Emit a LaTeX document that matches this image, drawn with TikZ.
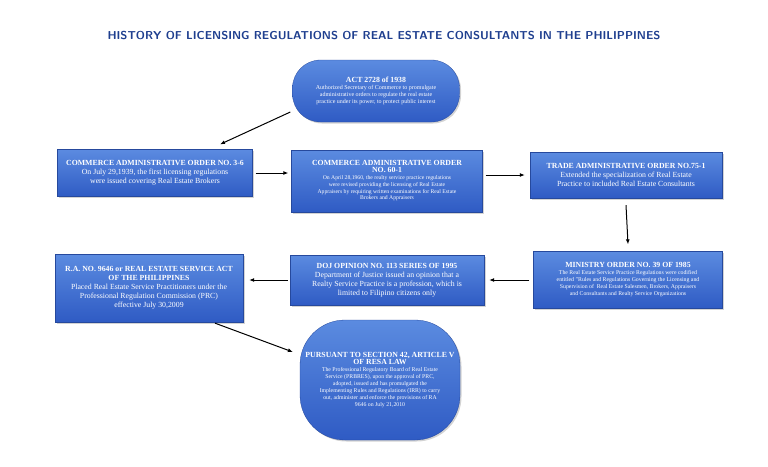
\documentclass[tikz,border=0pt]{standalone}
\usepackage{fontspec}
\setmainfont{Liberation Serif}
\usetikzlibrary{shadows,arrows.meta}
\definecolor{btop}{HTML}{5B8BE0}
\definecolor{bbot}{HTML}{2F5BC4}
\definecolor{ttl}{HTML}{1F3F8F}
\tikzset{
 bx/.style={top color=btop,bottom color=bbot,draw=bbot!80!black,line width=0.3pt,text=white,align=center,inner sep=2pt,drop shadow={opacity=0.35,shadow xshift=1.5pt,shadow yshift=-1.5pt}},
 conn/.style={-{Latex[length=5pt,width=4pt]},line width=1pt,black},
}
\newcommand{\hh}[1]{{\bfseries\fontsize{7.8}{9}\selectfont #1}}
\begin{document}
\begin{tikzpicture}[x=1pt,y=-1pt]
\useasboundingbox (0,0) rectangle (768,466);
\node (title) at (384,36) {\sffamily\bfseries\color{ttl}\fontsize{11.5}{12}\selectfont HISTORY OF LICENSING REGULATIONS OF REAL ESTATE CONSULTANTS IN THE PHILIPPINES};
\node[bx,rounded corners=28pt,minimum width=167pt,minimum height=62pt,font=\fontsize{6}{7}\selectfont] (act) at (376,91) {\hh{ACT 2728 of 1938}\\Authorized Secretary of Commerce to promulgate\\administrative orders to regulate the real estate\\practice under its power, to protect public interest};
\node[bx,minimum width=195pt,minimum height=47pt,font=\fontsize{7.8}{9}\selectfont] (cao) at (155,173) {\hh{COMMERCE ADMINISTRATIVE ORDER NO. 3-6}\\On July 29,1939, the first licensing regulations\\were issued covering Real Estate Brokers};
\node[bx,minimum width=191pt,minimum height=62pt,font=\fontsize{5.7}{6.8}\selectfont] (cao2) at (387,181) {\hh{COMMERCE ADMINISTRATIVE ORDER}\\\hh{NO. 60-1}\\On April 28,1960, the realty service practice regulations\\were revised providing the licensing of Real Estate\\Appraisers by requiring written examinations for Real Estate\\Brokers and Appraisers};
\node[bx,minimum width=192pt,minimum height=46pt,font=\fontsize{7.8}{9}\selectfont] (tao) at (626,175) {\hh{TRADE ADMINISTRATIVE ORDER NO.75-1}\\Extended the specialization of Real Estate\\Practice to included Real Estate Consultants};
\node[bx,minimum width=189pt,minimum height=57pt,font=\fontsize{5.8}{7}\selectfont] (min) at (628,280) {\hh{MINISTRY ORDER NO. 39 OF 1985}\\The Real Estate Service Practice Regulations were codified\\entitled "Rules and Regulations Governing the Licensing and\\Supervision of\ \ Real Estate Salesmen, Brokers, Appraisers\\and Consultants and Realty Service Organizations};
\node[bx,minimum width=194pt,minimum height=50pt,font=\fontsize{7.8}{9}\selectfont] (doj) at (387,280) {\hh{DOJ OPINION NO. 113 SERIES OF 1995}\\Department of Justice issued an opinion that a\\Realty Service Practice is a profession, which is\\limited to Filipino citizens only};
\node[bx,minimum width=188pt,minimum height=68pt,font=\fontsize{7.8}{9}\selectfont] (ra) at (149,288) {\hh{R.A. NO. 9646 or REAL ESTATE SERVICE ACT}\\\hh{OF THE PHILIPPINES}\\Placed Real Estate Service Practitioners under the\\Professional Regulation Commission (PRC)\\effective July 30,2009};
\node[bx,rounded corners=45pt,minimum width=160pt,minimum height=120pt,font=\fontsize{5.8}{7}\selectfont] (pur) at (380,380) {\hh{PURSUANT TO SECTION 42, ARTICLE V}\\\hh{OF RESA LAW}\\The Professional Regulatory Board of Real Estate\\Service (PRBRES), upon the approval of PRC,\\adopted, issued and has promulgated the\\Implementing Rules and Regulations (IRR) to carry\\out, administer and enforce the provisions of RA\\9646 on July 21,2010};
\draw[conn] ([xshift=-2pt,yshift=-21pt]act.west) -- ([xshift=65pt,yshift=5pt]cao.north);
\draw[conn] ([xshift=3pt]cao.east) -- ([xshift=-3pt]cao2.west |- cao.east);
\draw[conn] ([xshift=3pt]cao2.east |- tao.west) -- ([xshift=-5pt]tao.west);
\draw[conn] ([yshift=-7pt]tao.south) -- ([yshift=7pt]min.north);
\draw[conn] ([xshift=-4pt]min.west) -- ([xshift=5pt]doj.east);
\draw[conn] ([xshift=-2pt]doj.west) -- ([xshift=6pt]ra.east |- doj.west);
\draw[conn] ([xshift=66pt,yshift=-1pt]ra.south) -- ([xshift=-7pt,yshift=28pt]pur.west);
\end{tikzpicture}
\end{document}
